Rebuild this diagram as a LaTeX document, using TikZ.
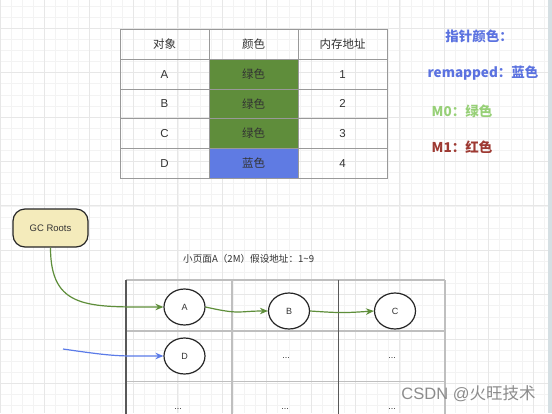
\documentclass[tikz,border=0pt]{standalone}
\usepackage{fontspec}
\setmainfont{Liberation Sans}
\newfontfamily\cjk{Noto Sans CJK SC}
\usetikzlibrary{arrows.meta,shapes.geometric}
\definecolor{gridminor}{HTML}{F3F3F3}
\definecolor{gridmajor}{HTML}{E7E7E7}
\definecolor{cellgreen}{HTML}{5F8D3B}
\definecolor{cellblue}{HTML}{5F7BE3}
\definecolor{arrowgreen}{HTML}{5E8E3A}
\definecolor{arrowblue}{HTML}{5B7BE8}
\definecolor{legblue}{HTML}{5B72E0}
\definecolor{leggreen}{HTML}{97D077}
\definecolor{legred}{HTML}{9E3A33}
\definecolor{rootfill}{HTML}{F4EBBB}
\definecolor{txtgray}{HTML}{333333}
\definecolor{edgestrip}{HTML}{D5DFE3}
\tikzset{
  cell/.style={draw=black!40, line width=0.8pt, minimum width=89pt, minimum height=29.7pt, inner sep=0pt, text=txtgray, font=\fontsize{11.5}{12}\selectfont},
  legend/.style={font=\cjk\bfseries\fontsize{13.5}{15}\selectfont, inner sep=0pt},
  obj/.style={ellipse, draw=black!85, line width=1.2pt, fill=white, minimum width=41pt, minimum height=36pt, inner sep=0pt, font=\fontsize{9}{10}\selectfont, text=txtgray},
  dots/.style={font=\fontsize{9}{10}\selectfont, text=txtgray, inner sep=0pt},
  garrow/.style={draw=arrowgreen, line width=1.2pt, -{Stealth[length=8pt,width=6.5pt]}},
  barrow/.style={draw=arrowblue, line width=1.2pt, -{Stealth[length=8pt,width=6.5pt]}},
  lightline/.style={draw=black!25, line width=1.3pt},
  darkline/.style={draw=black!65, line width=1.1pt}
}
\begin{document}
\begin{tikzpicture}[x=1pt,y=-1pt]
\useasboundingbox (0,0) rectangle (552,413);
% background grid
\fill[white] (0,0) rectangle (552,413);
\foreach \i in {0,...,50} {
  \draw[gridminor, line width=0.7pt] ({0.3+11.1*\i},0) -- ({0.3+11.1*\i},413);
}
\foreach \j in {0,...,37} {
  \draw[gridminor, line width=0.7pt] (0,{6.1+11.1*\j}) -- (552,{6.1+11.1*\j});
}
\foreach \i in {0,...,12} {
  \draw[gridmajor, line width=0.9pt] ({0.3+44.4*\i},0) -- ({0.3+44.4*\i},413);
}
\foreach \j in {0,...,9} {
  \draw[gridmajor, line width=0.9pt] (0,{-16.1+44.4*\j}) -- (552,{-16.1+44.4*\j});
}
\fill[edgestrip] (548,0) rectangle (552,413);

% top table
\node[cell] (h1) at (164.5,44.3) {\cjk 对象};
\node[cell] (h2) at (253.5,44.3) {\cjk 颜色};
\node[cell] (h3) at (342.5,44.3) {\cjk 内存地址};
\node[cell] (r1a) at (164.5,74.2) {A};
\node[cell, fill=cellgreen] (r1b) at (253.5,74.2) {\cjk 绿色};
\node[cell] (r1c) at (342.5,74.2) {1};
\node[cell] (r2a) at (164.5,103.9) {B};
\node[cell, fill=cellgreen] (r2b) at (253.5,103.9) {\cjk 绿色};
\node[cell] (r2c) at (342.5,103.9) {2};
\node[cell] (r3a) at (164.5,133.5) {C};
\node[cell, fill=cellgreen] (r3b) at (253.5,133.5) {\cjk 绿色};
\node[cell] (r3c) at (342.5,133.5) {3};
\node[cell] (r4a) at (164.5,163.2) {D};
\node[cell, fill=cellblue] (r4b) at (253.5,163.2) {\cjk 蓝色};
\node[cell] (r4c) at (342.5,163.2) {4};

% legend
\node[legend, text=legblue] (l0) at (479,36) {指针颜色：};
\node[legend, text=legblue] (l1) at (483,73) {remapped：蓝色};
\node[legend, text=leggreen] (l2) at (462,111) {M0：绿色};
\node[legend, text=legred] (l3) at (462,147) {M1：红色};

% GC Roots
\node[draw=black!85, line width=1.2pt, fill=rootfill, rounded corners=12pt, minimum width=75pt, minimum height=38pt, inner sep=0pt, text=txtgray, font=\fontsize{9.5}{10}\selectfont] (gc) at (50.5,228) {GC Roots};

% title
\node[font=\cjk\fontsize{9.6}{10}\selectfont, text=txtgray, inner sep=0pt, anchor=west] (title) at (183,258.5) {小页面A（2M）假设地址：1\textasciitilde9};

% big grid
\draw[lightline] (126,280) -- (445,280);
\draw[lightline] (126,331) -- (445,331);
\draw[lightline] (126,381.7) -- (445,381.7);
\draw[lightline] (232,280) -- (232,420);
\draw[lightline] (445,280) -- (445,420);
\draw[darkline] (126,280) -- (126,420);
\draw[darkline] (338.7,280) -- (338.7,420);

% objects
\node[obj] (a) at (184.5,307) {A};
\node[obj] (b) at (289,311) {B};
\node[obj] (c) at (395,311) {C};
\node[obj] (d) at (184.5,356) {D};
\node[dots] (e1) at (286,358) {...};
\node[dots] (e2) at (392,358) {...};
\node[dots] (e3) at (178,409) {...};
\node[dots] (e4) at (285,409) {...};
\node[dots] (e5) at (392,409) {...};

% connectors
\draw[garrow] (gc.south) .. controls +(0,62) and +(-75,0) .. (a.west);
\draw[garrow] (a.east) .. controls +(35,8) and +(-30,0) .. (b.west);
\draw[garrow] (b.east) .. controls +(30,2) and +(-30,2) .. (c.west);
\coordinate (bs) at (63,349);
\draw[barrow] (bs) .. controls +(55,8) and +(-45,0) .. (d.west);

% watermark
\node[text=black!45, font=\fontsize{16.5}{18}\selectfont, inner sep=0pt] (wm) at (468.5,394) {CSDN @{\cjk 火旺技术}};
\end{tikzpicture}
\end{document}
